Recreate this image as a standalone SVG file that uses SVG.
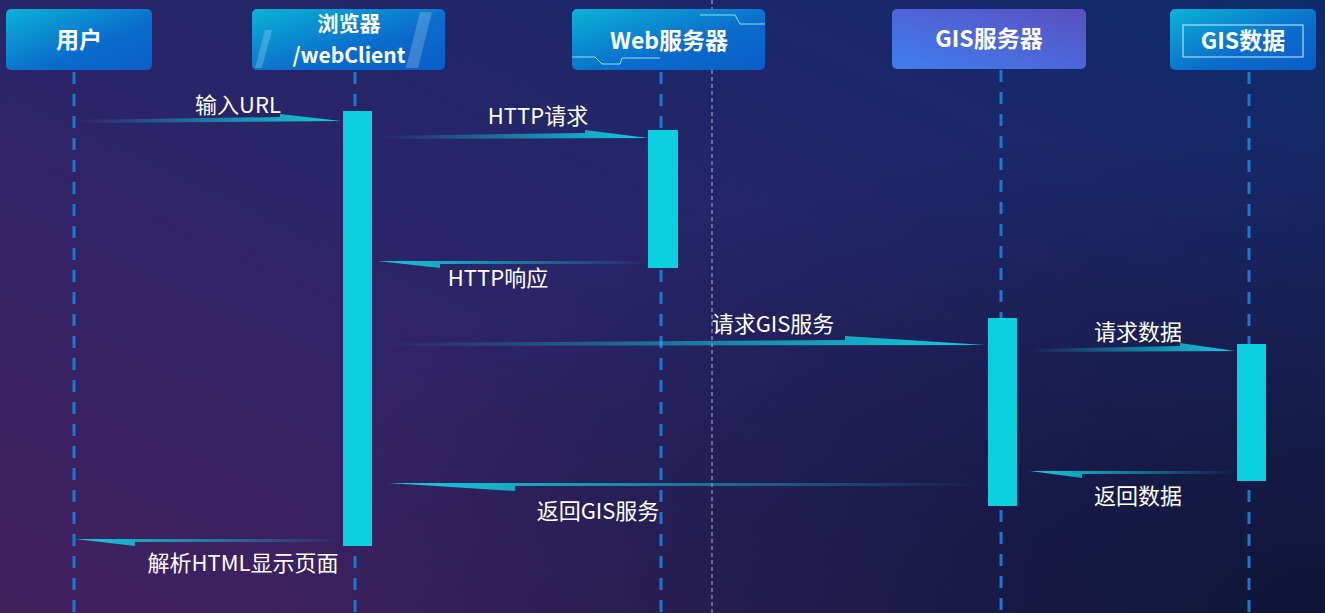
<svg xmlns="http://www.w3.org/2000/svg" width="1325" height="613" viewBox="0 0 1325 613">
<defs>
<linearGradient id="bg" x1="0" y1="1" x2="1" y2="0">
<stop offset="0" stop-color="#44205e"/><stop offset="0.45" stop-color="#2c2468"/><stop offset="1" stop-color="#0f2a6a"/>
</linearGradient>
<radialGradient id="bg2" cx="1" cy="1" r="0.8">
<stop offset="0" stop-color="#0b1330" stop-opacity="0.9"/><stop offset="1" stop-color="#0b1330" stop-opacity="0"/>
</radialGradient>
<linearGradient id="hd" x1="0" y1="0" x2="1" y2="1">
<stop offset="0" stop-color="#0ab4d6"/><stop offset="0.6" stop-color="#0a6ccc"/><stop offset="1" stop-color="#0a5ec8"/>
</linearGradient>
<linearGradient id="hd2" x1="0" y1="1" x2="1" y2="0">
<stop offset="0" stop-color="#3f7ef0"/><stop offset="1" stop-color="#5a4fc0"/>
</linearGradient>
<linearGradient id="ar" x1="0" y1="0" x2="1" y2="0">
<stop offset="0" stop-color="#0fd0e0" stop-opacity="0"/><stop offset="1" stop-color="#0fd0e0"/>
</linearGradient>
<linearGradient id="al" x1="1" y1="0" x2="0" y2="0">
<stop offset="0" stop-color="#0fd0e0" stop-opacity="0"/><stop offset="1" stop-color="#0fd0e0"/>
</linearGradient>
<style>
.h{font-family:"Noto Sans CJK SC","Liberation Sans",sans-serif;font-weight:bold;font-size:23px;fill:#fff;text-anchor:middle}
.h2{font-size:21px}
.l{font-family:"Noto Sans CJK SC","Liberation Sans",sans-serif;font-size:22px;fill:#fff;text-anchor:middle}
.ll{stroke:#1a78d0;stroke-width:3;stroke-dasharray:12 10}
.act{fill:#0bd0e0}
</style>
</defs>
<rect width="1325" height="613" fill="url(#bg)"/>
<rect width="1325" height="613" fill="url(#bg2)"/>
<line x1="712" y1="0" x2="712" y2="613" stroke="#b0b4c8" stroke-width="1" stroke-dasharray="4 3"/>
<g id="lifelines">
<line class="ll" x1="74" y1="72" x2="74" y2="613"/>
<line class="ll" x1="355" y1="72" x2="355" y2="613"/>
<line class="ll" x1="661" y1="72" x2="661" y2="613"/>
<line class="ll" x1="1001" y1="70" x2="1001" y2="613"/>
<line class="ll" x1="1249" y1="72" x2="1249" y2="613"/>
</g>
<g id="n-user"><rect x="6" y="9" width="146" height="61" rx="5" fill="url(#hd)"/><text class="h" x="79" y="48">用户</text></g>
<g id="n-browser"><rect x="252" y="9" width="193" height="61" rx="5" fill="url(#hd)"/>
<path d="M420 12 L432 12 L418 68 L406 68Z M265 30 L272 30 L262 68 L255 68Z" fill="#fff" opacity="0.2"/>
<text class="h h2" x="349" y="31">浏览器</text><text class="h h2" x="349" y="63">/webClient</text></g>
<g id="n-web"><rect x="572" y="9" width="193" height="61" rx="5" fill="url(#hd)"/>
<path d="M572 57 L595 57 L602 64 L620 64 L622 58 L660 58" fill="none" stroke="#8fe0f0" stroke-width="1"/>
<path d="M700 15 L735 15 L740 24 L765 24" fill="none" stroke="#8fe0f0" stroke-width="1"/>
<text class="h" x="669" y="49">Web服务器</text></g>
<g id="n-gisserver"><rect x="892" y="9" width="194" height="60" rx="5" fill="url(#hd2)"/><text class="h" x="989" y="47">GIS服务器</text></g>
<g id="n-gisdata"><rect x="1170" y="9" width="146" height="61" rx="5" fill="url(#hd)"/>
<rect x="1183" y="25" width="120" height="32" fill="none" stroke="#cfeefa" stroke-width="1"/>
<text class="h" x="1243" y="49">GIS数据</text></g>
<g id="activations">
<rect class="act" x="343" y="111" width="29" height="435"/>
<rect class="act" x="648" y="130" width="30" height="138"/>
<rect class="act" x="988" y="318" width="29" height="188"/>
<rect class="act" x="1237" y="344" width="29" height="137"/>
</g>
<g id="connectors">
<polygon points="75,120 280,117 280,114 341,121 75,123" fill="url(#ar)"/>
<polygon points="378,136 585,133 585,130 648,138 378,139" fill="url(#ar)"/>
<polygon points="648,261 378,261 440,268 440,264 648,264" fill="url(#al)"/>
<polygon points="378,343 845,340 845,336 985,345 378,346" fill="url(#ar)"/>
<polygon points="1030,349 1180,346 1180,343 1235,351 1030,352" fill="url(#ar)"/>
<polygon points="1235,471 1030,471 1082,478 1082,474 1235,474" fill="url(#al)"/>
<polygon points="985,483 388,483 515,491 515,486 985,486" fill="url(#al)"/>
<polygon points="343,539 75,539 135,546 135,542 343,542" fill="url(#al)"/>
</g>
<g id="labels">
<text class="l" x="238" y="113">输入URL</text>
<text class="l" x="538" y="124">HTTP请求</text>
<text class="l" x="498" y="286">HTTP响应</text>
<text class="l" x="773" y="332">请求GIS服务</text>
<text class="l" x="1138" y="340">请求数据</text>
<text class="l" x="1138" y="504">返回数据</text>
<text class="l" x="598" y="519">返回GIS服务</text>
<text class="l" x="243" y="571">解析HTML显示页面</text>
</g>
</svg>
